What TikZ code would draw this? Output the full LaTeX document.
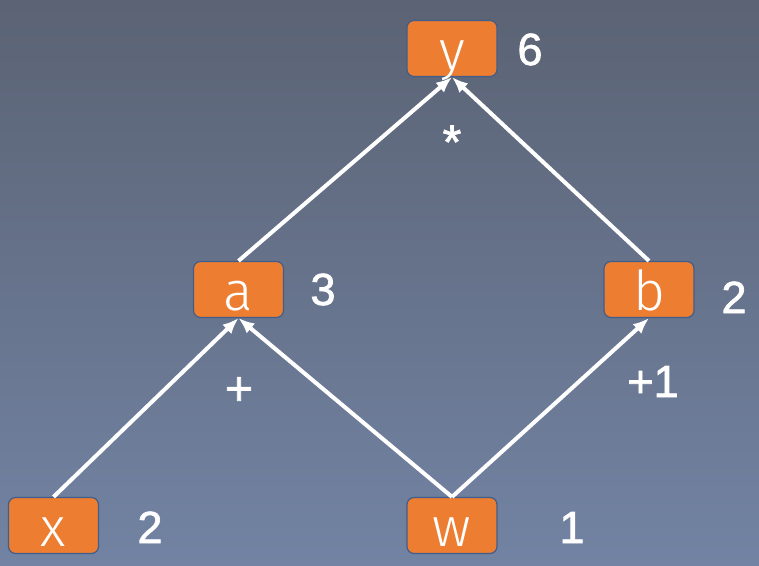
\documentclass[tikz,border=0pt]{standalone}
\usepackage{fontspec}
\setmainfont{Liberation Sans}
\newfontfamily\numfont{Liberation Sans}[FakeBold=1.6]
\newfontfamily\thinfont{Fira Sans}[UprightFont={* Light}]
\usetikzlibrary{arrows.meta}
\definecolor{bgtop}{HTML}{5B6374}
\definecolor{bgbot}{HTML}{7283A3}
\definecolor{boxfill}{HTML}{ED7D31}
\definecolor{boxline}{HTML}{3F5E8C}
\begin{document}
\begin{tikzpicture}[x=1pt,y=-1pt,
  box/.style={draw=boxline, line width=1.2pt, fill=boxfill, rounded corners=7pt,
    minimum width=90pt, minimum height=56pt, inner sep=0pt, text=white,
    text height=46pt, text depth=4pt,
    font=\thinfont\fontsize{55}{55}\selectfont},
  val/.style={text=white, anchor=base, inner sep=0pt, font=\numfont\fontsize{45}{45}\selectfont},
  op/.style={text=white, anchor=center, inner sep=0pt, font=\numfont\fontsize{48}{48}\selectfont},
  edge/.style={white, line width=4pt, -{Latex[length=16pt,width=13pt]}}]
\shade[top color=bgtop, bottom color=bgbot] (0,0) rectangle (759,565);
\useasboundingbox (0,0) rectangle (759,565);
\node[box] (y) at (452,48.5) {y};
\node[box] (a) at (238.5,289.5) {a};
\node[box] (b) at (649,289.5) {b};
\node[box] (x) at (53.5,525.5) {x};
\node[box] (w) at (452,525.5) {w};
\node[val] (vy) at (530,65) {6};
\node[val] (va) at (323,305) {3};
\node[val] (vb) at (734,313) {2};
\node[val] (vx) at (150,543) {2};
\node[val] (vw) at (572,543) {1};
\node[op] (mul) at (452,142) {*};
\node[op] (plus) at (239,391) {+};
\node[val] (plusone) at (653,397) {+1};
\draw[edge] (x.north) -- (a.south);
\draw[edge] (w.north) -- (a.south);
\draw[edge] (w.north) -- (b.south);
\draw[edge] (a.north) -- (y.south);
\draw[edge] (b.north) -- (y.south);
\end{tikzpicture}
\end{document}
